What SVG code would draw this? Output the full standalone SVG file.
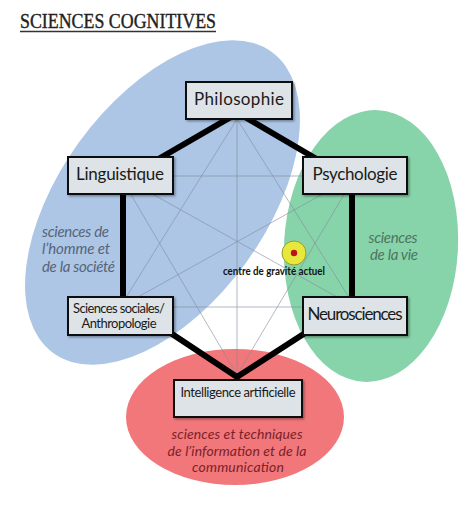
<svg xmlns="http://www.w3.org/2000/svg" width="474" height="508" viewBox="0 0 474 508">
<defs>
<filter id="sh" x="-10%" y="-10%" width="130%" height="140%">
<feDropShadow dx="1.5" dy="1.5" stdDeviation="1.2" flood-color="#000" flood-opacity="0.35"/>
</filter>
</defs>
<style>
.box{fill:#dde3e6;stroke:#111;stroke-width:2;filter:url(#sh)}
.lbl{font-family:Lato,"Open Sans","Liberation Sans",sans-serif;fill:#1a1a1a;text-anchor:middle}
.big{font-size:17px}
.small{font-size:13px}
.it{font-family:Lato,"Open Sans","Liberation Sans",sans-serif;font-style:italic;font-size:15px}
.it2{font-family:Lato,"Open Sans","Liberation Sans",sans-serif;font-style:italic;font-size:14px}
.thin{stroke:#7d8b98;stroke-width:0.8;stroke-opacity:0.75;fill:none}
.thick{stroke:#000;stroke-width:6;fill:none;stroke-linejoin:miter}
</style>
<rect width="474" height="508" fill="#fff"/>
<g id="title">
<text x="20" y="28" font-family="Liberation Serif,serif" font-size="22" fill="#222" stroke="#222" stroke-width="0.4" textLength="196" lengthAdjust="spacingAndGlyphs">SCIENCES COGNITIVES</text>
<line x1="20" y1="31.5" x2="216" y2="31.5" stroke="#333" stroke-width="1.5"/>
</g>
<g id="areas">
<ellipse cx="162.5" cy="202.5" rx="186" ry="103" transform="rotate(-54 162.5 202.5)" fill="#adc6e6"/>
<ellipse cx="371" cy="246" rx="87" ry="136" transform="rotate(3 371 246)" fill="#88d4aa"/>
<ellipse cx="235" cy="417" rx="109" ry="68" fill="#f2777b"/>
</g>
<g id="connectors">
<g class="thin">
<line x1="237" y1="119" x2="237" y2="375"/>
<line x1="237" y1="119" x2="120" y2="307"/>
<line x1="237" y1="119" x2="355" y2="307"/>
<line x1="120" y1="176" x2="355" y2="176"/>
<line x1="120" y1="307" x2="355" y2="307"/>
<line x1="120" y1="176" x2="355" y2="307"/>
<line x1="355" y1="176" x2="120" y2="307"/>
<line x1="120" y1="176" x2="237" y2="375"/>
<line x1="355" y1="176" x2="237" y2="375"/>
</g>
<g class="thick">
<polyline points="155,161 238,113 320,161"/>
<line x1="123" y1="190" x2="123" y2="300"/>
<line x1="352" y1="190" x2="352" y2="300"/>
<polyline points="160,326 237,377 316,326"/>
</g>
</g>
<g id="gravity">
<circle cx="294" cy="253" r="12" fill="#e6e83c" stroke="#9a9a30" stroke-width="1"/>
<circle cx="294" cy="253" r="3.2" fill="#c0101a"/>
<text x="274" y="275" text-anchor="middle" font-family="Lato,Open Sans,Liberation Sans,sans-serif" font-weight="bold" font-size="11" fill="#111" textLength="102" lengthAdjust="spacingAndGlyphs">centre de gravité actuel</text>
</g>
<g id="philosophie">
<rect class="box" x="186" y="82" width="106" height="37"/>
<text class="lbl big" x="239" y="105" textLength="90">Philosophie</text>
</g>
<g id="linguistique">
<rect class="box" x="68" y="157" width="105" height="37"/>
<text class="lbl big" x="120" y="180" textLength="88">Linguistique</text>
</g>
<g id="psychologie">
<rect class="box" x="303" y="157" width="104" height="37"/>
<text class="lbl big" x="355" y="180" textLength="85">Psychologie</text>
</g>
<g id="sciences-sociales">
<rect class="box" x="68" y="297" width="105" height="38"/>
<text class="lbl small" x="119" y="313" textLength="92">Sciences sociales/</text>
<text class="lbl small" x="119" y="328" textLength="75">Anthropologie</text>
</g>
<g id="neurosciences">
<rect class="box" x="303" y="297" width="104" height="38"/>
<text class="lbl big" x="355" y="320" textLength="95">Neurosciences</text>
</g>
<g id="ia">
<rect class="box" x="174" y="380" width="128" height="37"/>
<text class="lbl small" x="238" y="397" textLength="115">Intelligence artificielle</text>
</g>
<g id="area-labels">
<text class="it" fill="#566478"><tspan x="42" y="237" textLength="67">sciences de</tspan><tspan x="42" y="254" textLength="68">l’homme et</tspan><tspan x="42" y="272" textLength="73">de la société</tspan></text>
<text class="it" fill="#4d7560" text-anchor="middle"><tspan x="393" y="243" textLength="49">sciences</tspan><tspan x="394" y="260" textLength="48">de la vie</tspan></text>
<text class="it2" fill="#7a2228" text-anchor="middle"><tspan x="237" y="439" textLength="131">sciences et techniques</tspan><tspan x="237" y="456" textLength="139">de l’information et de la</tspan><tspan x="238" y="472" textLength="92">communication</tspan></text>
</g>
</svg>
